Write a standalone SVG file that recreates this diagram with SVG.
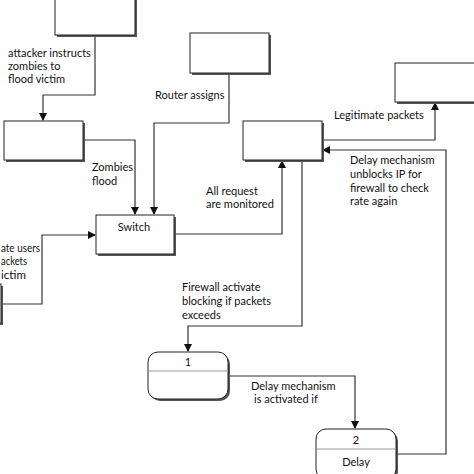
<svg xmlns="http://www.w3.org/2000/svg" width="474" height="474" viewBox="0 0 474 474">
<style>
.box{fill:#fff;stroke:#222;stroke-width:1}
.sh{fill:#555}
.ln{fill:none;stroke:#333;stroke-width:1.2}
text{font-family:Lato,"Open Sans","Liberation Sans",sans-serif;font-size:11px;fill:#111}
.c{text-anchor:middle}
</style>
<defs>
<marker id="ar" markerWidth="8" markerHeight="8" refX="7" refY="4" orient="auto" markerUnits="userSpaceOnUse">
<path d="M0,0 L8,4 L0,8 Z" fill="#111"/>
</marker>
</defs>
<rect width="474" height="474" fill="#fff"/>
<g id="connectors">
<path class="ln" d="M95,35 V95 H43 V120" marker-end="url(#ar)"/>
<path class="ln" d="M83,140 H135 V214" marker-end="url(#ar)"/>
<path class="ln" d="M229,73 V123 H154 V214" marker-end="url(#ar)"/>
<path class="ln" d="M0,304 H42 V235 H95" marker-end="url(#ar)"/>
<path class="ln" d="M174,234 H282 V161" marker-end="url(#ar)"/>
<path class="ln" d="M302,160 V326 H188 V351" marker-end="url(#ar)"/>
<path class="ln" d="M228,376 H355 V428" marker-end="url(#ar)"/>
<path class="ln" d="M396,454 H446 V150 H323" marker-end="url(#ar)"/>
<path class="ln" d="M322,140 H435 V103" marker-end="url(#ar)"/>
</g>
<g id="attacker">
<rect class="sh" x="57" y="-5" width="80" height="42"/>
<rect class="box" x="55" y="-5" width="80" height="40"/>
</g>
<g id="zombies">
<rect class="sh" x="6" y="123" width="79" height="39"/>
<rect class="box" x="4" y="121" width="79" height="39"/>
</g>
<g id="router">
<rect class="sh" x="192" y="35" width="79" height="40"/>
<rect class="box" x="190" y="33" width="79" height="40"/>
</g>
<g id="switch">
<rect class="sh" x="98" y="217" width="78" height="39"/>
<rect class="box" x="96" y="215" width="78" height="39"/>
<text class="c" x="134" y="231" font-size="12">Switch</text>
</g>
<g id="firewall">
<rect class="sh" x="245" y="123" width="79" height="39"/>
<rect class="box" x="243" y="121" width="79" height="39"/>
</g>
<g id="victim">
<rect class="sh" x="397" y="65" width="80" height="39"/>
<rect class="box" x="395" y="63" width="80" height="39"/>
</g>
<g id="legit-users">
<rect class="sh" x="-40" y="286" width="43" height="39"/>
<rect class="box" x="-42" y="284" width="43" height="39"/>
</g>
<g id="p1">
<rect class="sh" x="150" y="354" width="80" height="47" rx="10"/>
<rect class="box" x="148" y="352" width="80" height="47" rx="10"/>
<line x1="148" y1="371" x2="228" y2="371" stroke="#999" stroke-width="1"/>
<text class="c" x="188" y="366">1</text>
</g>
<g id="p2">
<rect class="sh" x="318" y="431" width="80" height="50" rx="10"/>
<rect class="box" x="316" y="429" width="80" height="50" rx="10"/>
<line x1="316" y1="449" x2="396" y2="449" stroke="#999" stroke-width="1"/>
<text class="c" x="356" y="444">2</text>
<text class="c" x="356" y="466">Delay</text>
</g>
<g id="labels">
<text x="8" y="57">attacker instructs</text>
<text x="8" y="70">zombies to</text>
<text x="8" y="83">flood victim</text>
<text x="92" y="171">Zombies</text>
<text x="92" y="185">flood</text>
<text x="155" y="99">Router assigns</text>
<text x="206" y="195">All request</text>
<text x="206" y="208">are monitored</text>
<text x="334" y="119">Legitimate packets</text>
<text x="350" y="164">Delay mechanism</text>
<text x="350" y="178">unblocks IP for</text>
<text x="350" y="192">firewall to check</text>
<text x="350" y="205">rate again</text>
<text x="1" y="252" textLength="39" lengthAdjust="spacingAndGlyphs">ate users</text>
<text x="1" y="265" textLength="26" lengthAdjust="spacingAndGlyphs">ackets</text>
<text x="1" y="279" textLength="25" lengthAdjust="spacingAndGlyphs">ictim</text>
<text x="182" y="291">Firewall activate</text>
<text x="182" y="305">blocking if packets</text>
<text x="182" y="319">exceeds</text>
<text x="251" y="390">Delay mechanism</text>
<text x="254" y="403">is activated if</text>
</g>
</svg>
